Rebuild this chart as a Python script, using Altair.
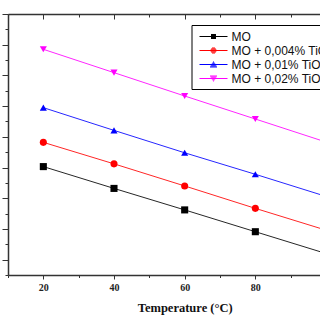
import altair as alt
import pandas as pd

# Temperature (°C) and the measured values for each sample
temperature = [20, 40, 60, 80, 100]
series = ["MO", "MO + 0,004% TiO₂", "MO + 0,01% TiO₂", "MO + 0,02% TiO₂"]
mo = [4.03, 3.32, 2.62, 1.91, 1.20]
mo_004 = [4.82, 4.12, 3.40, 2.67, 1.96]
mo_01 = [5.95, 5.21, 4.48, 3.78, 3.06]
mo_02 = [7.85, 7.09, 6.33, 5.58, 4.83]

colors = ["#000000", "#ff0000", "#0000ff", "#ff00ff"]
markers = ["square", "circle", "triangle-up", "triangle-down"]


def key_path(widths):
    """Legend key: a short line plus a small marker painted as 1px scanlines."""
    unit = 7.0
    n = len(widths)
    parts = ["M-2,0H2"]
    for k, w in enumerate(widths):
        y = (k - (n - 1) / 2) / unit
        h = w / 2 / unit
        parts.append(f"M{-h:.3f},{y:.3f}H{h:.3f}")
    return "".join(parts)


legend_keys = [
    key_path([5, 5, 5, 5, 5]),
    key_path([3, 5, 6, 6, 5, 3]),
    key_path([1, 2, 3.5, 4.5, 6, 7]),
    key_path([7, 6, 4.5, 3.5, 2, 1]),
]

x_ticks = list(range(10, 101, 10))
y_ticks = [v / 2 for v in range(1, 19)]

rows = []
for name, vals in zip(series, [mo, mo_004, mo_01, mo_02]):
    for t, v in zip(temperature, vals):
        rows.append({"Temperature": t, "value": v, "series": name})
df = pd.DataFrame(rows)

serif = "Liberation Serif"
sans = "Liberation Sans"
frame = "#333333"

x_scale = alt.Scale(domain=[10, 98.3], nice=False, zero=False)
y_scale = alt.Scale(domain=[0.5, 9.0], nice=False, zero=False)
color_scale = alt.Scale(domain=series, range=colors)

major_x = "datum.value % 20 === 0"

bottom_axis = alt.Axis(
    orient="bottom",
    values=x_ticks,
    grid=False,
    domainColor=frame,
    domainWidth=1.5,
    tickColor=frame,
    tickWidth=1,
    tickSize={"condition": {"test": major_x, "value": 4}, "value": 2.5},
    labelExpr=f"{major_x} ? datum.label : ''",
    labelFont=serif,
    labelFontWeight="bold",
    labelFontSize=10,
    labelColor="#222222",
    labelPadding=3,
    labelFlush=False,
    labelOverlap=False,
    title="Temperature (°C)",
    titleFont=serif,
    titleFontWeight="bold",
    titleFontSize=12.5,
    titleColor="#111111",
    titleX=176.7,
    titleY=36.5,
    titleBaseline="alphabetic",
)

top_axis = alt.Axis(
    orient="top",
    values=x_ticks,
    grid=False,
    labels=False,
    title=None,
    domainColor=frame,
    domainWidth=1.5,
    tickColor=frame,
    tickWidth=1,
    tickSize={"condition": {"test": major_x, "value": -5}, "value": -3},
)

left_axis = alt.Axis(
    orient="left",
    values=y_ticks,
    grid=False,
    labels=False,
    title=None,
    domainColor=frame,
    domainWidth=1.5,
    tickColor=frame,
    tickWidth=1,
    tickSize={"condition": {"test": "datum.value % 1 === 0", "value": 6}, "value": 3},
)

base = alt.Chart(df)

# one line and one marker layer per sample
layers = []
for i, (name, shape, col) in enumerate(zip(series, markers, colors)):
    sub = base.transform_filter(alt.datum.series == name)
    layers.append(
        sub.mark_line(strokeWidth=1, clip=True, strokeOpacity=0.85, color=col).encode(
            x=alt.X("Temperature:Q", scale=x_scale, axis=bottom_axis if i == 0 else None),
            y=alt.Y("value:Q", scale=y_scale, axis=left_axis),
        )
    )
    layers.append(
        sub.mark_point(filled=True, size=50, opacity=1, clip=True, shape=shape, color=col).encode(
            x=alt.X("Temperature:Q", scale=x_scale, axis=top_axis if i == 0 else None),
            y=alt.Y("value:Q", scale=y_scale, axis=left_axis),
        )
    )

legend = alt.Legend(
    title=None,
    orient="none",
    legendX=183.5,
    legendY=11,
    padding=4,
    strokeColor="#000000",
    fillColor="#ffffff",
    symbolSize=196,
    symbolStrokeWidth=1,
    symbolOffset=10.5,
    labelOffset=10.5,
    labelFont=sans,
    labelFontSize=12,
    labelColor="#111111",
    labelLimit=400,
    rowPadding=0,
)

# transparent copy of the points that carries the legend (line + marker keys)
legend_layer = base.mark_point(filled=False, opacity=0, clip=True).encode(
    x=alt.X("Temperature:Q", scale=x_scale, axis=None),
    y=alt.Y("value:Q", scale=y_scale, axis=left_axis),
    color=alt.Color("series:N", scale=color_scale, legend=legend),
    shape=alt.Shape("series:N", scale=alt.Scale(domain=series, range=legend_keys), legend=legend),
)

chart = (
    alt.layer(*layers, legend_layer)
    .resolve_axis(x="independent")
    .properties(
        width=312,
        height=261,
        padding={"left": 8, "top": 14, "right": 0, "bottom": 45},
        autosize=alt.AutoSizeParams(type="none"),
        background="#ffffff",
    )
    .configure_view(stroke=None)
    .configure_legend(strokeWidth=1)
)

chart.save("out.html", embed_options={"renderer": "svg", "actions": False})
